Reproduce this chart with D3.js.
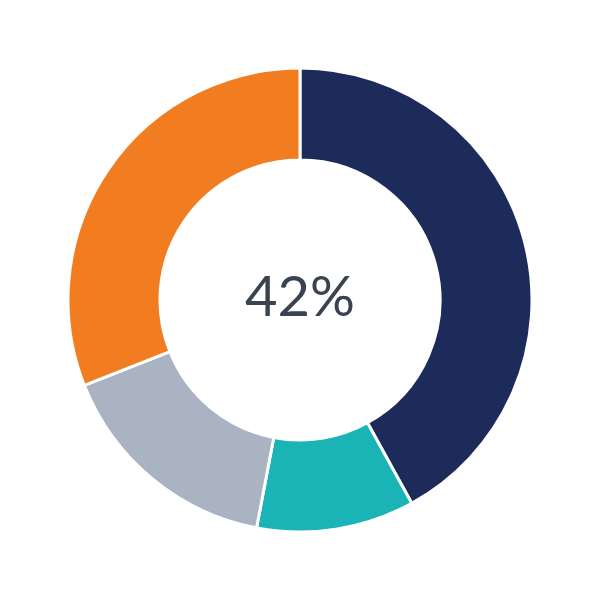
<!DOCTYPE html>
<html>
<head>
<meta charset="utf-8">
<script src="https://cdn.jsdelivr.net/npm/d3@7"></script>
<style>
  body { margin: 0; background: #fff; }
</style>
</head>
<body>
<svg id="chart"></svg>
<script>
const categories = ["A", "B", "C", "D"];
const values = [42, 11, 16, 31];
const colors = ["#1c2b5a", "#1bb4b6", "#a9b3c1", "#f27d21"];
const centerLabel = "42%";

const width = 600;
const height = 600;
const outerR = 232;
const innerR = 140;

const svg = d3.select("#chart")
  .attr("width", width)
  .attr("height", height)
  .attr("viewBox", [0, 0, width, height]);

const g = svg.append("g")
  .attr("transform", `translate(${width / 2},${height / 2})`);

const pie = d3.pie().sort(null).value(d => d.value);
const arc = d3.arc().innerRadius(innerR).outerRadius(outerR);

const data = categories.map((c, i) => ({ name: c, value: values[i] }));

g.selectAll("path")
  .data(pie(data))
  .join("path")
  .attr("d", arc)
  .attr("fill", (d, i) => colors[i])
  .attr("stroke", "#fff")
  .attr("stroke-width", 3);

// подпись в центре
g.append("text")
  .attr("text-anchor", "middle")
  .attr("y", 16)
  .attr("font-family", "Lato, 'Open Sans', sans-serif")
  .attr("font-weight", 400)
  .attr("font-size", 56)
  .attr("fill", "#3a4350")
  .text(centerLabel);
</script>
</body>
</html>
